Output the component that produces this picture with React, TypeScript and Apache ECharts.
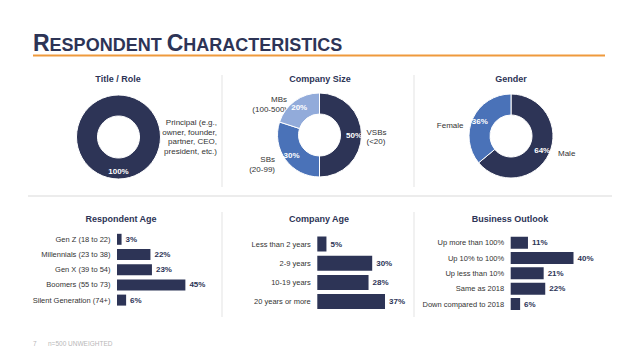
import React, { useEffect, useRef } from "react";
import * as echarts from "echarts";

const NAVY = "#2d3456";
const MID = "#4a72b8";
const LIGHT = "#92abda";
const FONT = "'Liberation Sans', Arial, sans-serif";

const roleNames = ["Principal (e.g.,\nowner, founder,\npartner, CEO,\npresident, etc.)"];
const roleValues = [100];
const sizeNames = ["VSBs\n(<20)", "SBs\n(20-99)", "MBs\n(100-500)"];
const sizeValues = [50, 30, 20];
const genderNames = ["Male", "Female"];
const genderValues = [64, 36];

const ageCats = ["Gen Z (18 to 22)", "Millennials (23 to 38)", "Gen X (39 to 54)", "Boomers (55 to 73)", "Silent Generation (74+)"];
const ageValues = [3, 22, 23, 45, 6];
const compAgeCats = ["Less than 2 years", "2-9 years", "10-19 years", "20 years or more"];
const compAgeValues = [5, 30, 28, 37];
const outlookCats = ["Up more than 100%", "Up 10% to 100%", "Up less than 10%", "Same as 2018", "Down compared to 2018"];
const outlookValues = [11, 40, 21, 22, 6];

const panelTitles = ["Title / Role", "Company Size", "Gender", "Respondent Age", "Company Age", "Business Outlook"];

export default function App() {
  const ref = useRef<HTMLDivElement>(null);
  useEffect(() => {
    document.body.style.margin = "0";
    const chart = echarts.init(ref.current!, null, { renderer: "svg" });

    const pie = (center: number[], names: string[], values: number[], colors: string[]) => ({
      type: "pie",
      center,
      radius: [21, 42],
      startAngle: 90,
      clockwise: true,
      silent: true,
      itemStyle: { borderColor: "#fff", borderWidth: 1 },
      label: {
        show: true,
        position: "inside",
        formatter: "{c}%",
        color: "#fff",
        fontWeight: "bold",
        fontSize: 8,
        fontFamily: FONT,
      },
      labelLine: { show: false },
      data: values.map((v, i) => ({ value: v, name: names[i], itemStyle: { color: colors[i] } })),
    });

    const gridDefs = [
      { left: 117, top: 231.7, width: 76, height: 76, cats: ageCats, vals: ageValues, bw: 11 },
      { left: 317.3, top: 234.4, width: 91.5, height: 76.8, cats: compAgeCats, vals: compAgeValues, bw: 15 },
      { left: 510.7, top: 235, width: 78.5, height: 76.7, cats: outlookCats, vals: outlookValues, bw: 12 },
    ];

    const txt = (text: string, x: number, y: number, align: string, opts: any = {}) => ({
      type: "text",
      x,
      y,
      silent: true,
      style: {
        text,
        fill: opts.fill || "#333",
        font: `${opts.weight || "normal"} ${opts.size || 8}px ${FONT}`,
        textAlign: align,
        textVerticalAlign: "middle",
        lineHeight: opts.lh || 9.5,
      },
    });

    const titlePos = [
      [118, 79], [320, 79], [511, 79], [121, 219], [319, 219], [510, 219],
    ];

    const graphics: any[] = [
      {
        type: "text",
        x: 33,
        y: 54,
        style: {
          text: "{a|R}{b|ESPONDENT }{a|C}{b|HARACTERISTICS}",
          textVerticalAlign: "bottom",
          rich: {
            a: { fontSize: 23, fontWeight: "bold", fontFamily: FONT, fill: NAVY, color: NAVY, lineHeight: 23, verticalAlign: "bottom" },
            b: { fontSize: 18, fontWeight: "bold", fontFamily: FONT, fill: NAVY, color: NAVY, lineHeight: 18, verticalAlign: "bottom" },
          },
        },
      },
      { type: "line", shape: { x1: 33, y1: 55.5, x2: 605, y2: 55.5 }, style: { stroke: "#ef9a3c", lineWidth: 2 } },
      { type: "line", shape: { x1: 222, y1: 75, x2: 222, y2: 187 }, style: { stroke: "#ececec", lineWidth: 1.5 } },
      { type: "line", shape: { x1: 414, y1: 75, x2: 414, y2: 187 }, style: { stroke: "#ececec", lineWidth: 1.5 } },
      { type: "line", shape: { x1: 222, y1: 212, x2: 222, y2: 317 }, style: { stroke: "#ececec", lineWidth: 1.5 } },
      { type: "line", shape: { x1: 414, y1: 212, x2: 414, y2: 317 }, style: { stroke: "#ececec", lineWidth: 1.5 } },
      { type: "line", shape: { x1: 28, y1: 196, x2: 612, y2: 196 }, style: { stroke: "#ececec", lineWidth: 2 } },
      ...panelTitles.map((t, i) => txt(t, titlePos[i][0], titlePos[i][1], "center", { fill: NAVY, weight: "bold", size: 9 })),
      txt(roleNames[0], 217, 137, "right", { lh: 9.7 }),
      txt(sizeNames[0], 366.5, 137, "left", { lh: 9.5 }),
      txt(sizeNames[1], 275, 164.5, "right", { lh: 9.5 }),
      txt(sizeNames[2], 287, 104.5, "right", { lh: 10 }),
      txt(genderNames[0], 558, 153.5, "left"),
      txt(genderNames[1], 463.5, 125.5, "right"),
      txt("7", 33, 343, "left", { fill: "#b8b8b8", size: 6.5 }),
      txt("n=500 UNWEIGHTED", 48, 343, "left", { fill: "#b8b8b8", size: 6.5 }),
    ];

    chart.setOption({
      animation: false,
      textStyle: { fontFamily: FONT },
      grid: gridDefs.map((g) => ({ left: g.left, top: g.top, width: g.width, height: g.height })),
      xAxis: gridDefs.map((g, i) => ({
        type: "value",
        gridIndex: i,
        min: 0,
        max: 50,
        show: false,
      })),
      yAxis: gridDefs.map((g, i) => ({
        type: "category",
        gridIndex: i,
        data: g.cats,
        inverse: true,
        axisLine: { show: false },
        axisTick: { show: false },
        splitLine: { show: false },
        axisLabel: { margin: 6.5, fontSize: 7.5, color: "#333", fontFamily: FONT },
      })),
      series: [
        pie([118.5, 137], roleNames, roleValues, [NAVY]),
        pie([319.5, 135], sizeNames, sizeValues, [NAVY, MID, LIGHT]),
        pie([511, 136], genderNames, genderValues, [NAVY, MID]),
        ...gridDefs.map((g, i) => ({
          type: "bar",
          xAxisIndex: i,
          yAxisIndex: i,
          data: g.vals,
          barWidth: g.bw,
          itemStyle: { color: NAVY },
          silent: true,
          label: {
            show: true,
            position: "right",
            distance: 4,
            formatter: "{c}%",
            color: NAVY,
            fontWeight: "bold",
            fontSize: 8,
            fontFamily: FONT,
          },
        })),
      ],
      graphic: graphics,
    });
    return () => chart.dispose();
  }, []);
  return <div ref={ref} style={{ width: 638, height: 359 }} />;
}
